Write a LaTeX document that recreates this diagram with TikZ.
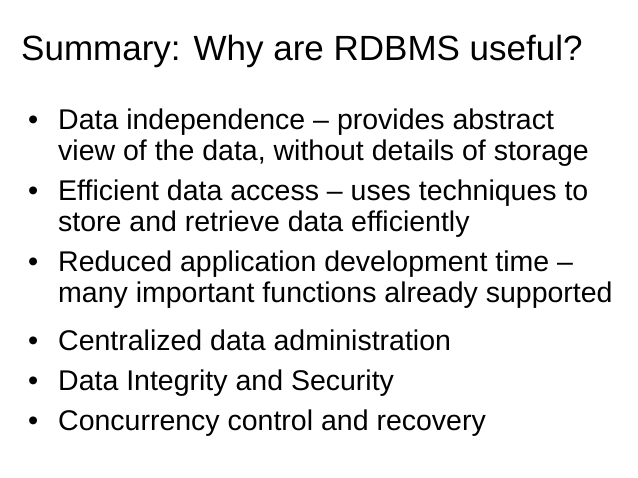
\documentclass[tikz,border=0pt]{standalone}
\usepackage{fontspec}
\setmainfont{Liberation Sans}
\begin{document}
\begin{tikzpicture}[x=1pt,y=-1pt,
  ln/.style={anchor=base west,inner sep=0pt,font=\fontsize{28.5}{34}\selectfont},
  bl/.style={anchor=base west,inner sep=0pt,font=\fontsize{29}{34}\selectfont}]
\useasboundingbox (0,0) rectangle (638,478);
\node[anchor=base west,inner sep=0pt,font=\fontsize{35}{42}\selectfont] (t) at (21,61) {Summary: Why are RDBMS useful?};
\foreach \y/\n in {130/b1,201/b2,272/b3,351/b4,391/b5,431/b6}
  \node[bl] (\n) at (28,\y) {•};
\node[ln] (l1) at (58,130) {Data independence – provides abstract};
\node[ln] (l2) at (58,161) {view of the data, without details of storage};
\node[ln] (l3) at (58,201) {Efficient data access – uses techniques to};
\node[ln] (l4) at (58,232) {store and retrieve data efficiently};
\node[ln] (l5) at (58,272) {Reduced application development time –};
\node[ln] (l6) at (58,303) {many important functions already supported};
\node[ln] (l7) at (58,351) {Centralized data administration};
\node[ln] (l8) at (58,391) {Data Integrity and Security};
\node[ln] (l9) at (58,431) {Concurrency control and recovery};
\end{tikzpicture}
\end{document}
